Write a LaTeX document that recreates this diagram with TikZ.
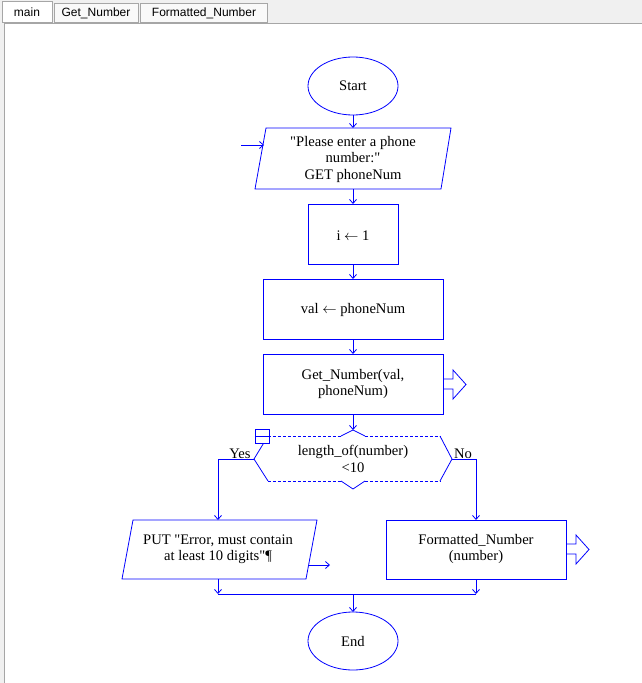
\documentclass[tikz,border=0pt]{standalone}
\usepackage{fontspec}
\setmainfont{Liberation Serif}[Ligatures=TeXOff]
\newfontfamily\uisans{Liberation Sans}
\usetikzlibrary{arrows.meta,shapes.geometric}
\definecolor{fb}{RGB}{0,0,255}
\begin{document}
\begin{tikzpicture}[x=1bp,y=-1bp,
  ln/.style={draw=fb,line width=0.8bp},
  ar/.style={ln,-{Straight Barb[length=4bp,width=7bp]}},
  txt/.style={font=\fontsize{14.6bp}{16.5bp}\selectfont,align=center,text=black,inner sep=0pt},
  tab/.style={draw=gray!70,fill=#1,font=\uisans\fontsize{12bp}{13bp}\selectfont,inner sep=0pt}]
\useasboundingbox (0,0) rectangle (642,683);
\fill[gray!12] (0,0) rectangle (642,683);
\fill[white] (5,24) rectangle (642,683);
\draw[gray!70] (4,683) -- (4,23) -- (642,23);
% tabs
\node[tab=white,minimum width=50bp,minimum height=21bp] (t1) at (27,12) {main};
\node[tab=gray!5,minimum width=84bp,minimum height=19bp] (t2) at (96,13) {Get\_Number};
\node[tab=gray!5,minimum width=127bp,minimum height=19bp] (t3) at (204,13) {Formatted\_Number};
% shapes
\draw[ln] (353,86) ellipse (45 and 29);
\node[txt] (start) at (353,86) {Start};
\draw[ln] (266,128) -- (451,128) -- (441,189) -- (255,189) -- cycle;
\node[txt] (inp) at (353,159) {"Please enter a phone\\number:"\\GET phoneNum};
\draw[ln] (308,204) rectangle (398,264);
\node[txt] (i) at (353,236) {i $\leftarrow$ 1};
\draw[ln] (263,279) rectangle (443,339);
\node[txt] (val) at (353,310) {val $\leftarrow$ phoneNum};
\draw[ln] (263,354) rectangle (443,414);
\node[txt] (gn) at (353,384) {Get\_Number(val,\\phoneNum)};
\draw[ln] (443,379) -- (453,379) -- (453,370) -- (466,384.5) -- (453,399) -- (453,389) -- (443,389);
% decision
\draw[ln] (268,436) -- (254,459) -- (268,481);
\draw[ln] (440,436) -- (452,459) -- (440,481);
\draw[ln] (341,436) -- (353,430) -- (365,436);
\draw[ln] (341,481) -- (353,489) -- (365,481);
\draw[fb,densely dashed,line width=0.5bp] (268,436) -- (341,436) (365,436) -- (440,436);
\draw[fb,densely dashed,line width=0.5bp] (268,481) -- (341,481) (365,481) -- (440,481);
\draw[ln,fill=white] (255,429) rectangle (269,443);
\draw[ln] (255,436) -- (269,436);
\node[txt] (dec) at (353,459) {length\_of(number)\\<10};
\node[txt] (yes) at (240,454) {Yes};
\node[txt] (no) at (463,454) {No};
% output
\draw[ln] (133,520) -- (317,520) -- (306,579) -- (122,579) -- cycle;
\node[txt] (out) at (218,549) {PUT "Error, must contain\\at least 10 digits"¶};
\draw[ln] (386,520) rectangle (566,579);
\node[txt] (fn) at (476,549) {Formatted\_Number\\(number)};
\draw[ln] (566,544) -- (576,544) -- (576,535) -- (589,549.5) -- (576,564) -- (576,554) -- (566,554);
\draw[ln] (353,641) ellipse (45 and 29);
\node[txt] (end) at (353,641) {End};
% connectors
\coordinate (ein) at (241,145);
\draw[ar] (ein) -- (264,145);
\draw[ar] (353,115) -- (353,128);
\draw[ar] (353,189) -- (353,204);
\draw[ar] (353,264) -- (353,279);
\draw[ar] (353,339) -- (353,354);
\draw[ar] (353,414) -- (353,430);
\draw[ar] (254,459) -- (218,459) -- (218,520);
\draw[ar] (452,459) -- (476,459) -- (476,520);
\draw[ar] (308,565) -- (330,565);
\draw[ar] (218,579) -- (218,594);
\draw[ar] (476,579) -- (476,594);
\draw[ln] (218,594) -- (476,594);
\draw[ar] (353,594) -- (353,612);
\end{tikzpicture}
\end{document}
